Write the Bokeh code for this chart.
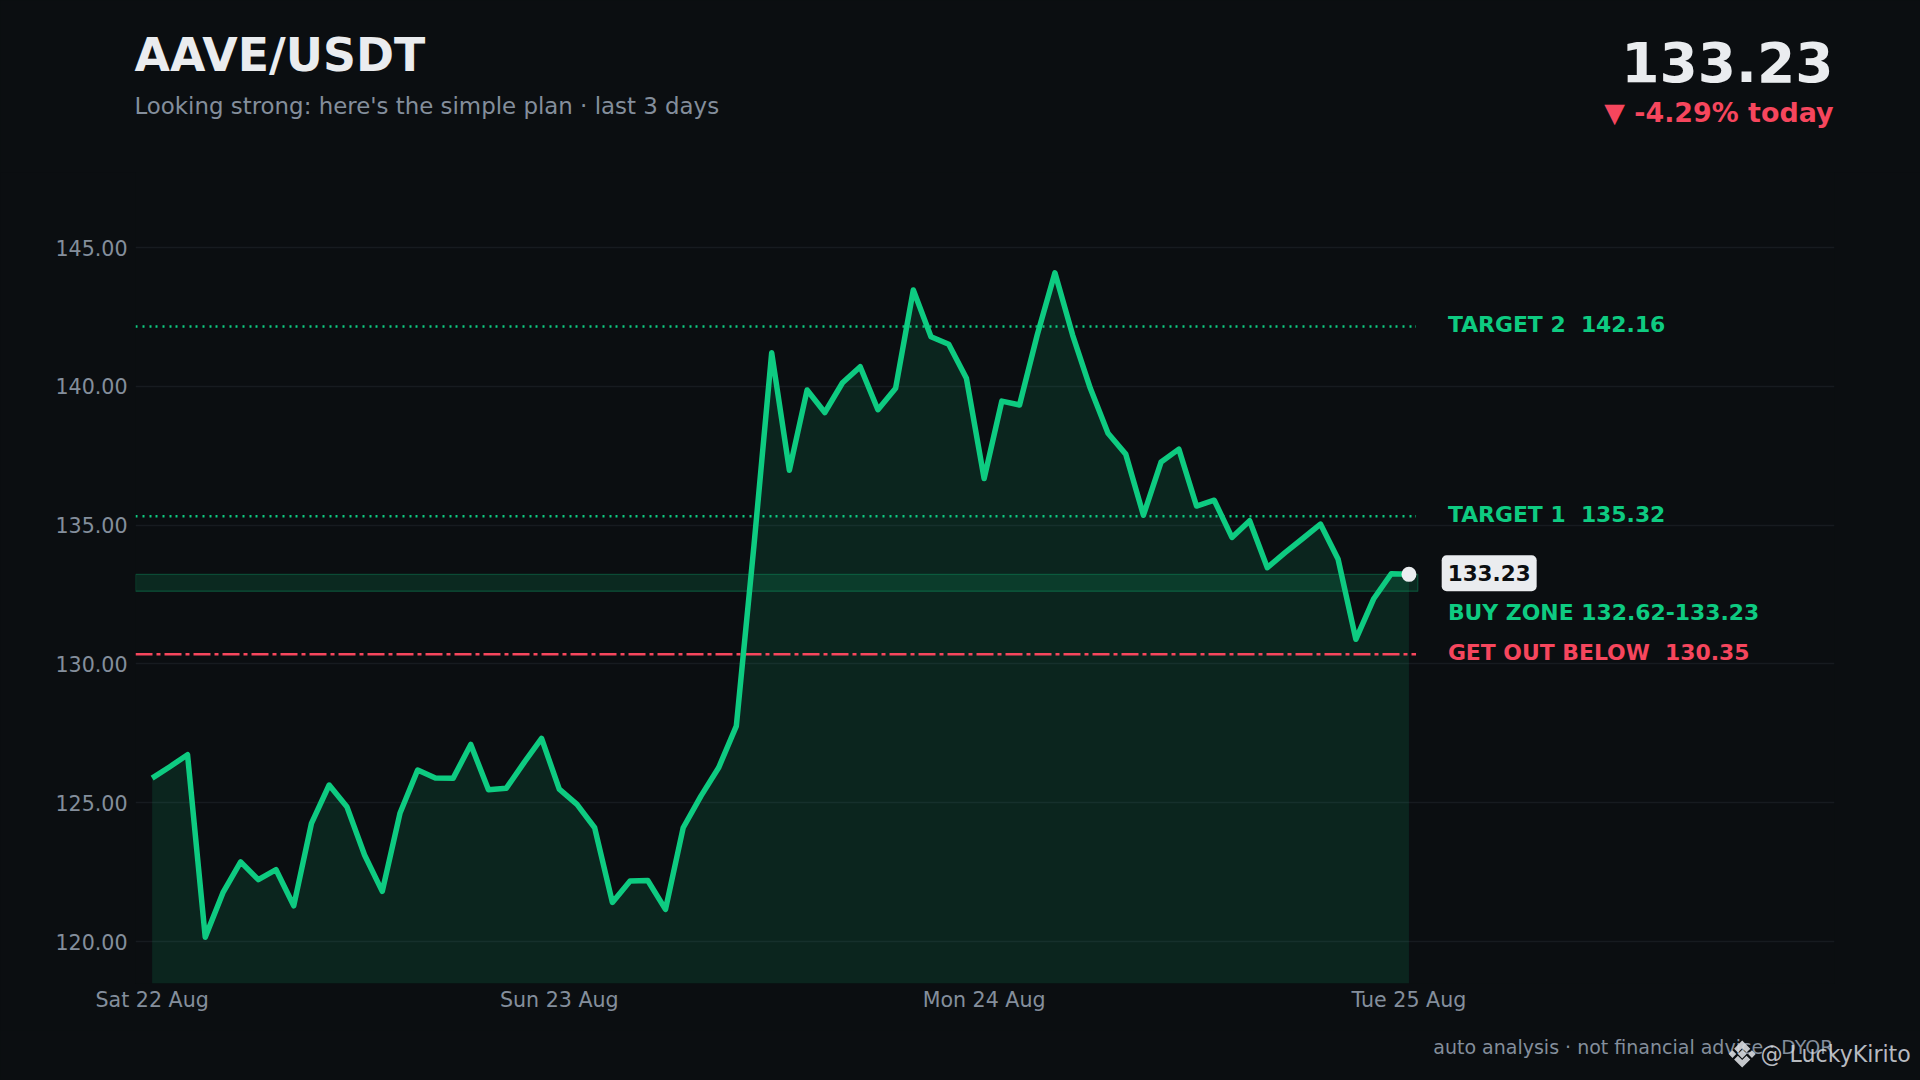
from bokeh.core.properties import value
from bokeh.embed import file_html
from bokeh.layouts import column
from bokeh.resources import INLINE
from bokeh.plotting import figure
from bokeh.models import Label, FixedTicker, NumeralTickFormatter, Range1d

# ---- data ----
symbol = "AAVE/USDT"
subtitle = "Looking strong: here's the simple plan \u00b7 last 3 days"
price = [125.89, 126.30, 126.73, 120.16, 121.76, 122.87, 122.23, 122.59, 121.29, 124.26,
         125.64, 124.86, 123.12, 121.81, 124.62, 126.18, 125.89, 125.88, 127.10, 125.47,
         125.52, 126.44, 127.32, 125.49, 124.94, 124.10, 121.41, 122.18, 122.20, 121.16,
         124.10, 125.24, 126.26, 127.76, 134.28, 141.21, 136.98, 139.87, 139.06, 140.13,
         140.71, 139.16, 139.93, 143.47, 141.79, 141.52, 140.29, 136.68, 139.47, 139.33,
         141.85, 144.09, 141.85, 139.93, 138.31, 137.56, 135.36, 137.28, 137.74, 135.69,
         135.90, 134.56, 135.16, 133.47, 134.01, 134.52, 135.04, 133.77, 130.89, 132.34,
         133.25, 133.23]
hours = list(range(len(price)))
x_tick_pos = [0, 23, 47, 71]
x_tick_txt = ["Sat 22 Aug", "Sun 23 Aug", "Mon 24 Aug", "Tue 25 Aug"]
y_ticks = [120, 125, 130, 135, 140, 145]
target_1 = 135.32
target_2 = 142.16
stop = 130.35
zone_low = 132.62
zone_high = 133.23
last_price = 133.23
change_text = "\u25bc -4.29% today"
footer = "auto analysis \u00b7 not financial advice \u00b7 DYOR"
watermark = "@ LuckyKirito"

# ---- style ----
BG = "#0b0e11"
GREEN = "#0ecb81"
RED = "#f6465d"
TEXT = "#eaecef"
MUTED = "#848e9c"
LOGO = "#d8dbe0"
FONT = "DejaVu Sans"

W = 1920
TOP_H, MAIN_BOTTOM, H = 172, 1030, 1080
F_L, F_R, F_T, F_B = 135, 1834, 172, 983
x0, x1 = -0.94, 95.04
y0, y1 = 118.49, 147.705


def strip(y_top, y_bottom):
    """A text band whose data coordinates are the page's own pixels."""
    f = figure(width=W, height=y_bottom - y_top, output_backend="svg", toolbar_location=None,
               x_range=Range1d(0, W), y_range=Range1d(y_bottom, y_top),
               x_axis_location=None, y_axis_location=None, frame_align=False,
               min_border=0, min_border_left=0, min_border_right=0, min_border_top=0, min_border_bottom=0,
               background_fill_color=BG, border_fill_color=BG, outline_line_color=None)
    f.grid.visible = False
    return f


def put(f, txt, px, py, size, color, bold=False, align="left", alpha=1.0):
    f.text([px], [py], text=[txt], text_font=value(FONT), text_font_size=value(f"{size}px"),
           text_color=color, text_font_style="bold" if bold else "normal",
           text_align=align, text_baseline="alphabetic", text_alpha=alpha)


# ---- header ----
head = strip(0, TOP_H)
put(head, symbol, 134, 54.3, 45.8, TEXT, bold=True)
put(head, subtitle, 134, 105.4, 22.9, MUTED)
put(head, f"{last_price:.2f}", 1833, 61.4, 55, TEXT, bold=True, align="right")
put(head, change_text, 1833, 112.4, 26.9, RED, bold=True, align="right")

# ---- main chart ----
p = figure(width=W, height=MAIN_BOTTOM - TOP_H, output_backend="svg", toolbar_location=None,
           x_range=Range1d(x0, x1), y_range=Range1d(y0, y1), frame_align=False,
           min_border_left=F_L, min_border_right=W - F_R,
           min_border_top=0, min_border_bottom=MAIN_BOTTOM - F_B,
           background_fill_color=BG, border_fill_color=BG, outline_line_color=None)

p.xgrid.visible = False
p.ygrid.grid_line_color = "#171b20"
p.ygrid.grid_line_width = 1.3
p.ygrid.ticker = FixedTicker(ticks=y_ticks)

for ax in (p.xaxis[0], p.yaxis[0]):
    ax.axis_line_color = None
    ax.major_tick_line_color = None
    ax.minor_tick_line_color = None
    ax.major_label_text_color = MUTED
    ax.major_label_text_font = FONT
    ax.major_label_text_font_size = "20.6px"

p.yaxis[0].ticker = FixedTicker(ticks=y_ticks)
p.yaxis[0].formatter = NumeralTickFormatter(format="0.00")
p.yaxis[0].major_label_standoff = 2
p.xaxis[0].ticker = FixedTicker(ticks=x_tick_pos)
p.xaxis[0].major_label_overrides = dict(zip(x_tick_pos, x_tick_txt))
p.xaxis[0].major_label_standoff = -2

p.varea(x=hours, y1=[y0] * len(hours), y2=price, fill_color=GREEN, fill_alpha=0.12)
p.quad(left=[x0], right=[71.5], bottom=[zone_low], top=[zone_high],
       fill_color=GREEN, fill_alpha=0.14, line_color=GREEN, line_alpha=0.25, line_width=1.3)
for lvl in (target_2, target_1):
    p.line([x0, 71.4], [lvl, lvl], line_color=GREEN, line_width=2.5, line_dash="2 5 2 5 2 4")
p.line([x0, 71.4], [stop, stop], line_color=RED, line_width=2.5, line_dash="17 4 4 4")

p.line(hours, price, line_color=GREEN, line_width=5.5, line_join="round")
p.scatter([hours[-1]], [last_price], size=15, marker="circle", fill_color=TEXT, line_color=None)


def level_text(txt, val, color):
    p.add_layout(Label(x=73.2, y=val, text=txt, text_font=FONT, text_font_size="21.9px",
                       text_font_style="bold", text_color=color, text_align="left",
                       text_baseline="middle"))


level_text(f"TARGET 2\u00a0 {target_2:.2f}", target_2 + 0.06, GREEN)
level_text(f"TARGET 1\u00a0 {target_1:.2f}", target_1 + 0.06, GREEN)
level_text(f"BUY ZONE {zone_low:.2f}-{zone_high:.2f}", 131.86, GREEN)
level_text(f"GET OUT BELOW\u00a0 {stop:.2f}", stop + 0.05, RED)

p.add_layout(Label(x=72.85, y=133.27, text=f"{last_price:.2f}", text_font=FONT, text_font_size="21.5px",
                   text_font_style="bold", text_color=BG, text_align="left", text_baseline="middle",
                   background_fill_color=TEXT, border_radius=5, padding=(6, 10)))

# ---- footer + watermark ----
foot = strip(MAIN_BOTTOM, H)
put(foot, footer, 1833, 1046, 19, MUTED, align="right")
cx, cy, u = 1741.7, 1053.6, 13.5
logo_parts = [
    [(0, -0.32), (0.32, 0), (0, 0.32), (-0.32, 0)],
    [(-1, 0), (-0.72, -0.28), (-0.44, 0), (-0.72, 0.28)],
    [(1, 0), (0.72, -0.28), (0.44, 0), (0.72, 0.28)],
    [(0, -1), (0.6, -0.4), (0.32, -0.12), (0, -0.44), (-0.32, -0.12), (-0.6, -0.4)],
    [(0, 1), (0.6, 0.4), (0.32, 0.12), (0, 0.44), (-0.32, 0.12), (-0.6, 0.4)],
]
foot.patches([[cx + a * u for a, b in part] for part in logo_parts],
              [[cy + b * u for a, b in part] for part in logo_parts],
              fill_color=LOGO, fill_alpha=0.9, line_color=None)
put(foot, watermark, 1760, 1053.4, 22.1, LOGO, alpha=0.85)

page = column(head, p, foot, spacing=0)
html = file_html(page, INLINE)
html = html.replace("</head>", f"<style>html,body{{background:{BG};}}</style></head>")
open("out.html", "w").write(html)
